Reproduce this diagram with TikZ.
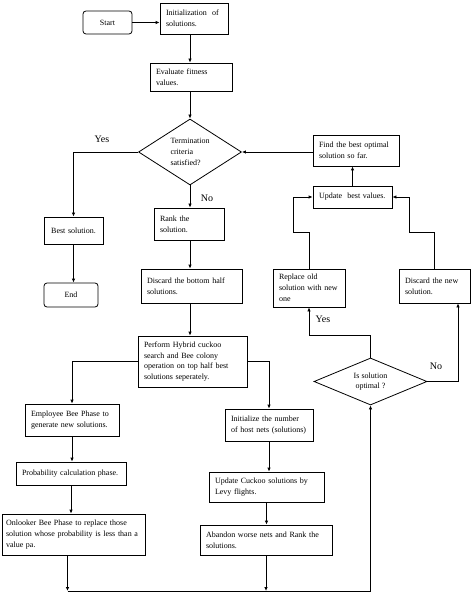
\documentclass[tikz,border=0pt]{standalone}
\usepackage{fontspec}
\setmainfont{Liberation Serif}
\usetikzlibrary{arrows.meta,positioning,shapes.geometric}

\begin{document}
\begin{tikzpicture}[
    x=1pt, y=-1pt,
    box/.style={draw, line width=0.8pt, align=left, inner xsep=6pt, inner ysep=2pt, font=\fontsize{8}{10.8}\selectfont},
    roundbox/.style={draw, rounded corners=3pt, line width=0.8pt, align=center, font=\fontsize{8}{10.8}\selectfont},
    decide/.style={draw, diamond, line width=0.8pt, inner sep=0pt, font=\fontsize{8}{10.8}\selectfont},
    arr/.style={-{Latex[length=4pt,width=3.5pt]}, line width=0.8pt},
    lbl/.style={font=\fontsize{10}{12}\selectfont}
  ]
  \useasboundingbox (0,0) rectangle (474,593);

  \node[roundbox, minimum width=49pt, minimum height=23pt] (start) at (107.5,22.5) {Start};
  \node[box, text width=56pt, minimum height=31pt] (init) at (194,18.5) {Initialization\ \ of\\solutions.};
  \node[box, text width=70pt, minimum height=28pt] (eval) at (191,77) {Evaluate fitness\\values.};
  \node[decide, aspect=1.6, align=left, minimum width=103pt, minimum height=66pt] (termc) at (190,152) {Termination\\criteria\\satisfied?};
  \node[box, text width=74pt, minimum height=31pt] (findb) at (356,150.5) {Find the best optimal\\solution so far.};
  \node[box, text width=67pt, minimum height=22pt] (updb) at (352.5,197) {Update\ \ best values.};
  \node[box, align=center, text width=47pt, minimum height=27pt] (best) at (73.5,230.5) {Best solution.};
  \node[roundbox, minimum width=54pt, minimum height=24pt] (stop) at (71,295) {End};
  \node[box, text width=58pt, minimum height=32pt] (rank) at (189,224) {Rank the\\solution.};
  \node[box, text width=89pt, minimum height=34pt] (discb) at (191.5,286) {Discard the bottom half\\solutions.};
  \node[box, text width=97pt, minimum height=51pt] (perf) at (192.5,361.5) {Perform Hybrid cuckoo\\search and Bee colony\\operation on top half best\\solutions seperately.};
  \node[box, text width=60pt, minimum height=38pt] (repl) at (309,288) {Replace old\\solution with new\\one};
  \node[box, text width=59pt, minimum height=34pt] (discn) at (434.5,286) {Discard the new\\solution.};
  \node[decide, aspect=2, align=center, minimum width=113pt, minimum height=47pt] (opt) at (370.5,381.5) {Is solution\\optimal ?};
  \node[box, text width=82pt, minimum height=32pt] (emp) at (72,420) {Employee Bee Phase to\\generate new solutions.};
  \node[box, text width=98pt, minimum height=23pt] (prob) at (71,473.5) {Probability calculation phase.};
  \node[box, inner xsep=4pt, text width=135pt, minimum height=41pt] (onl) at (73.5,534.5) {Onlooker Bee Phase to replace those\\solution whose probability is less than a\\value pa.};
  \node[box, text width=76pt, minimum height=32pt] (inith) at (269,425) {Initialize the number\\of host nets (solutions)};
  \node[box, text width=103pt, minimum height=30pt] (updc) at (266.5,487) {Update Cuckoo solutions by\\Levy flights.};
  \node[box, text width=120pt, minimum height=30pt] (aband) at (266,540) {Abandon worse nets and Rank the\\solutions.};
  \coordinate (join) at (370.5,591);

  \node[lbl] (yesa) at (102,139) {Yes};
  \node[lbl] (noa) at (207,198) {No};
  \node[lbl] (yesb) at (323,319) {Yes};
  \node[lbl] (nob) at (436,366) {No};

  \draw[arr] (start.east) -- (start.east -| init.west);
  \draw[arr] (init.south -| termc) -- (eval.north -| termc);
  \draw[arr] (eval.south -| termc) -- (termc.north);
  \draw[arr] (termc.west) -| (best.north);
  \draw[arr] (best.south) -- (best.south |- stop.north);
  \draw[arr] (termc.south) -- (rank.north -| termc);
  \draw[arr] (rank.south -| termc) -- (discb.north -| termc);
  \draw[arr] (discb.south -| termc) -- (perf.north -| termc);
  \draw[arr] (perf.west) -| (emp.north);
  \draw[arr] (perf.east) -| (inith.north);
  \draw[arr] (emp.south) -- (emp.south |- prob.north);
  \draw[arr] (prob.south) -- (prob.south |- onl.north);
  \draw[arr] (inith.south) -- (inith.south |- updc.north);
  \draw[arr] (updc.south) -- (updc.south |- aband.north);
  \draw[arr] ([xshift=-6pt]onl.south) -- ([xshift=-6pt]onl.south |- join);
  \draw[arr] (aband.south) -- (aband.south |- join);
  \draw[arr] ([xshift=-6pt]onl.south |- join) -- (join) -- (opt.south);
  \draw[arr] (opt.north) -- ++(0,-22) -| (repl.south);
  \draw[arr] (opt.east) -| ([xshift=23.5pt]discn.south);
  \draw[arr] (repl.north) -- ++(0,-36) -- ++(-16,0) |- (updb.west);
  \draw[arr] (discn.north) -- ++(0,-36) -- ++(-25,0) |- (updb.east);
  \draw[arr] (updb.north) -- (updb.north |- findb.south);
  \draw[arr] (findb.west |- termc) -- (termc.east);
\end{tikzpicture}
\end{document}
